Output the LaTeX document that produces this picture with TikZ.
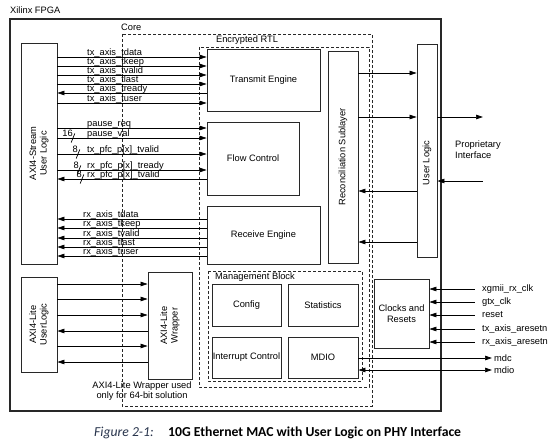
\documentclass[tikz,border=0pt]{standalone}
\usepackage{fontspec}
\setmainfont{Liberation Sans}
\newfontfamily\capfont{Carlito}
\usetikzlibrary{arrows.meta}
\definecolor{capblue}{RGB}{40,52,76}
\definecolor{edge}{RGB}{40,40,40}

\begin{document}
\begin{tikzpicture}[x=1pt,y=-1pt,font=\fontsize{9.3}{10.5}\selectfont,
  blk/.style={draw=edge,line width=0.9pt,inner sep=1pt,align=center},
  dbox/.style={draw=edge,line width=0.8pt,dash pattern=on 3pt off 2pt},
  sig/.style={line width=0.7pt},
  lbl/.style={anchor=base west,inner sep=0pt},
  >={Triangle[length=7pt,width=4.5pt]}]
\useasboundingbox (0,0) rectangle (554,444);
\node[anchor=west,inner sep=0pt] (fpgalbl) at (10,10) {Xilinx FPGA};
\draw[edge,line width=1.1pt] (10,19) rectangle (441,411);
\draw[dbox] (122,34) rectangle (372,406);
\node[anchor=west,inner sep=0pt] (corelbl) at (121,27) {Core};
\draw[dbox] (199,47) rectangle (369,387);
\node[inner sep=0pt] (rtllbl) at (247,40) {Encrypted RTL};
\draw[dbox] (208,271) rectangle (362,381);
\node[anchor=west,inner sep=0pt] (mgmtlbl) at (215,277) {Management Block};

\node[blk,minimum width=36pt,minimum height=221pt] (axis) at (39,153.5) {};
\node[rotate=90,align=center] (axistxt) at (axis) {AXI4-Stream\\User Logic};
\node[blk,minimum width=113pt,minimum height=62pt] (tx) at (263.5,80) {Transmit Engine};
\node[blk,minimum width=92pt,minimum height=73pt] (fc) at (253,158.5) {Flow Control};
\node[blk,minimum width=113pt,minimum height=58pt] (rx) at (263.5,235) {Receive Engine};
\node[blk,minimum width=30pt,minimum height=212pt] (rs) at (343,157) {};
\node[rotate=90] (rstxt) at (rs) {Reconciliation Sublayer};
\node[blk,minimum width=20pt,minimum height=213pt] (ul) at (427,150.5) {};
\node[rotate=90] (ultxt) at (427,163) {User Logic};
\node[blk,minimum width=69pt,minimum height=42pt] (cfg) at (246.5,305) {Config};
\node[blk,minimum width=70pt,minimum height=42pt] (stat) at (323,305) {Statistics};
\node[blk,minimum width=69pt,minimum height=41pt,inner sep=0pt] (irq) at (246.5,357.5) {Interrupt Control};
\node[blk,minimum width=70pt,minimum height=41pt] (mdio) at (323,357.5) {MDIO};
\node[blk,minimum width=55pt,minimum height=69pt] (clk) at (401.5,313.5) {Clocks and\\Resets};
\node[blk,minimum width=36pt,minimum height=95pt] (alul) at (39,324.5) {};
\node[rotate=90,align=center] (alultxt) at (alul) {AXI4-Lite\\UserLogic};
\node[blk,minimum width=44pt,minimum height=107pt] (alw) at (170,325.5) {};
\node[rotate=90,align=center] (alwtxt) at (alw) {AXI4-Lite\\Wrapper};
\node[align=center,inner sep=0pt] (alwnote) at (142,391) {AXI4-Lite Wrapper used\\only for 64-bit solution};

\foreach \y/\s/\d in {57/tdata/->,66/tkeep/->,75/tvalid/->,84/tlast/->,93/tready/<-,103/tuser/->}{
  \draw[sig,\d] (axis.east |- 0,\y) -- (tx.west |- 0,\y);
  \node[lbl] (tx\s) at (87,\y-1.5) {tx\_axis\_\s};
}
\draw[sig,->] (axis.east |- 0,128) -- (fc.west |- 0,128);
\node[lbl] (preq) at (87,126.5) {pause\_req};
\draw[sig,->] (axis.east |- 0,138) -- (fc.west |- 0,138);
\node[lbl] (pval) at (87,136.5) {pause\_val};
\draw[sig,->] (axis.east |- 0,154) -- (fc.west |- 0,154);
\node[lbl] (txpfc) at (87,152.5) {tx\_pfc\_p[x]\_tvalid};
\draw[sig,->] (axis.east |- 0,170) -- (fc.west |- 0,170);
\node[lbl] (rxpfcr) at (87,168.5) {rx\_pfc\_p[x]\_tready};
\draw[sig,<-] (axis.east |- 0,179) -- (fc.west |- 0,179);
\node[lbl] (rxpfcv) at (87,177.5) {rx\_pfc\_p[x]\_tvalid};
\foreach \x/\y/\n [count=\i] in {73/138/16,78/154/8,79/170/8,82/179/8}{
  \draw[sig] (\x-1.8,\y+4.5) -- (\x+1.8,\y-4.5);
  \node[anchor=base east,inner sep=0pt] (w\i) at (\x,\y-1.5) {\n};
}
\foreach \y/\s in {219/tdata,228/tkeep,238/tvalid,247/tlast,256/tuser}{
  \draw[sig,<-] (axis.east |- 0,\y) -- (rx.west |- 0,\y);
  \node[lbl] (rx\s) at (83,\y-1.5) {rx\_axis\_\s};
}
\foreach \y/\d in {284/->,299/->,315/->,331/<-,346/->,362/<-}
  \draw[sig,\d] (alul.east |- 0,\y) -- (alw.west |- 0,\y);
\foreach \y/\d in {73/->,117/->,191/<-,242/<-}
  \draw[sig,\d] (rs.east |- 0,\y) -- (ul.west |- 0,\y);

\coordinate (pi1) at (483,117);
\coordinate (pi2) at (483,181);
\draw[sig,->] (ul.east |- pi1) -- (pi1);
\draw[sig,<-] (ul.east |- pi2) -- (pi2);
\node[anchor=north west,align=left,inner sep=0pt] (pilbl) at (455,141) {Proprietary\\Interface};

\foreach \y/\s [count=\i] in {289/xgmii\_rx\_clk,302/gtx\_clk,315/reset,329/tx\_axis\_aresetn,342/rx\_axis\_aresetn}{
  \node[anchor=west,inner sep=0pt] (ck\i) at (482,\y) {\s};
  \draw[sig,<-] (clk.east |- ck\i) -- ([xshift=-7pt]ck\i.west);
}
\node[anchor=west,inner sep=0pt] (mdclbl) at (494,358) {mdc};
\node[anchor=west,inner sep=0pt] (mdiolbl) at (494,370) {mdio};
\draw[sig,->] (mdio.east |- mdclbl) -- ([xshift=-2pt]mdclbl.west);
\draw[sig,<->] (mdio.east |- mdiolbl) -- ([xshift=-2pt]mdiolbl.west);

\node[anchor=base west,inner sep=0pt,text=capblue,font=\capfont\fontsize{13.7}{15}\selectfont\itshape] (figno) at (94,436) {Figure 2-1:};
\node[anchor=base west,inner sep=0pt,font=\capfont\fontsize{13.7}{15}\selectfont\bfseries] (figttl) at (168,436) {10G Ethernet MAC with User Logic on PHY Interface};
\end{tikzpicture}
\end{document}
